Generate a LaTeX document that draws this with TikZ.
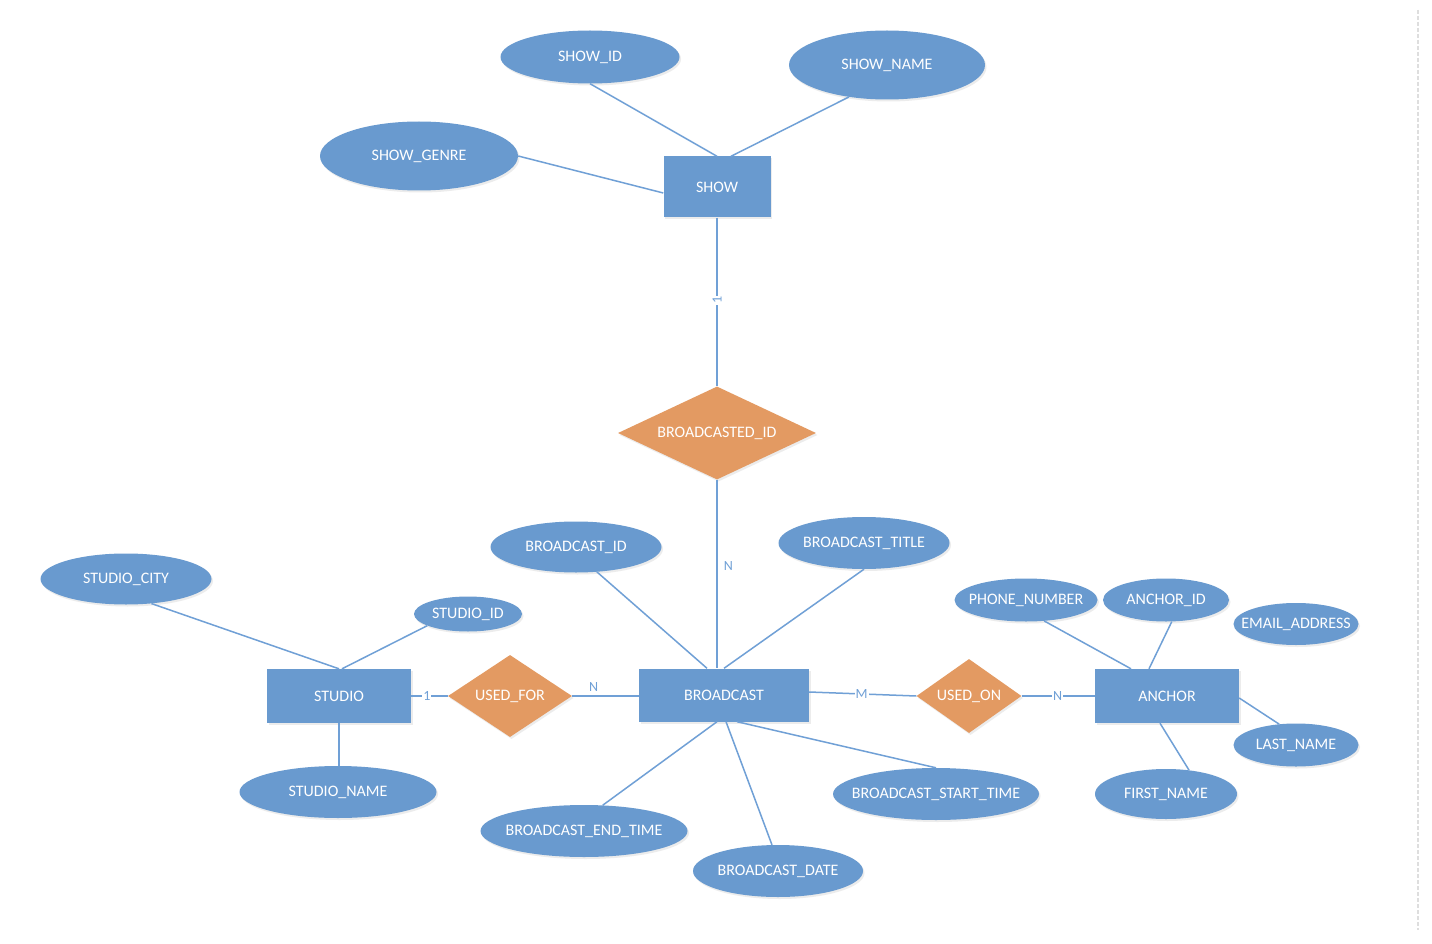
\documentclass[tikz,border=0pt]{standalone}
\usepackage{fontspec}
\setmainfont{Carlito}
\usetikzlibrary{shapes.geometric,calc,shadows}
\definecolor{erblue}{RGB}{105,154,207}
\definecolor{erline}{RGB}{112,160,214}
\definecolor{erorange}{RGB}{227,154,98}
\definecolor{edgegray}{RGB}{222,222,222}
\newcommand\zw[1]{\makebox[0pt]{#1}}
\begin{document}
\begin{tikzpicture}[x=1pt,y=-1pt,
  shd/.style={drop shadow={shadow xshift=1.5pt,shadow yshift=-2pt,opacity=0.15}},
  attr/.style={ellipse, fill=erblue, shd, text=white, inner sep=0pt,
               font=\fontsize{16}{18}\selectfont},
  ent/.style={rectangle, fill=erblue, shd, text=white, inner sep=0pt,
              font=\fontsize{16}{18}\selectfont},
  rel/.style={diamond, fill=erorange, shd, text=white, inner sep=0pt,
              font=\fontsize{16}{18}\selectfont},
  conn/.style={draw=erline, line width=1.5pt},
  lbl/.style={font=\fontsize{14}{16}\selectfont, text=erline, inner sep=1pt},
  onl/.style={lbl, fill=white}]
\useasboundingbox (0,0) rectangle (1432,944);
\fill[white] (0,0) rectangle (1432,944);
\draw[edgegray, line width=1.5pt, dash pattern=on 4pt off 2pt] (1418,10) -- (1418,930);

% SHOW part
\node[ent, minimum width=107pt, minimum height=61pt] (show) at (717,187) {SHOW};
\node[attr, minimum width=179pt, minimum height=53pt] (sid) at (590,57) {\zw{SHOW\_ID}};
\node[attr, minimum width=196pt, minimum height=69pt] (sname) at (887,65) {\zw{SHOW\_NAME}};
\node[attr, minimum width=198pt, minimum height=69pt] (sgenre) at (419,156) {\zw{SHOW\_GENRE}};
\node[rel, minimum width=198pt, minimum height=93pt] (bid) at (717,433) {\zw{BROADCASTED\_ID}};

% BROADCAST part
\node[ent, minimum width=170pt, minimum height=53pt] (bc) at (724,695) {BROADCAST};
\node[attr, minimum width=171pt, minimum height=51pt] (bcid) at (576,547) {\zw{BROADCAST\_ID}};
\node[attr, minimum width=171pt, minimum height=52pt] (bctitle) at (864,543) {\zw{BROADCAST\_TITLE}};
\node[attr, minimum width=207pt, minimum height=52pt] (bcend) at (584,831) {\zw{BROADCAST\_END\_TIME}};
\node[attr, minimum width=170pt, minimum height=52pt] (bcdate) at (778,871) {\zw{BROADCAST\_DATE}};
\node[attr, minimum width=206pt, minimum height=52pt] (bcstart) at (936,794) {\zw{BROADCAST\_START\_TIME}};

% STUDIO part
\node[ent, minimum width=144pt, minimum height=54pt] (studio) at (339,696) {STUDIO};
\node[attr, minimum width=171pt, minimum height=51pt] (scity) at (126,579) {\zw{STUDIO\_CITY}};
\node[attr, minimum width=108pt, minimum height=35pt] (stid) at (468,614) {\zw{STUDIO\_ID}};
\node[attr, minimum width=197pt, minimum height=52pt] (stname) at (338,792) {\zw{STUDIO\_NAME}};
\node[rel, minimum width=124pt, minimum height=82pt] (ufor) at (510,696) {\zw{USED\_FOR}};

% ANCHOR part
\node[rel, minimum width=105pt, minimum height=74pt] (uon) at (969,696) {\zw{USED\_ON}};
\node[ent, minimum width=144pt, minimum height=54pt] (anchor) at (1167,696) {ANCHOR};
\node[attr, minimum width=143pt, minimum height=43pt] (phone) at (1026,600) {\zw{PHONE\_NUMBER}};
\node[attr, minimum width=126pt, minimum height=43pt] (aid) at (1166,600) {\zw{ANCHOR\_ID}};
\node[attr, minimum width=125pt, minimum height=42pt] (email) at (1296,624) {\zw{EMAIL\_ADDRESS}};
\node[attr, minimum width=125pt, minimum height=43pt] (lname) at (1296,745) {\zw{LAST\_NAME}};
\node[attr, minimum width=142pt, minimum height=50pt] (fname) at (1166,794) {\zw{FIRST\_NAME}};

% connectors
\draw[conn] (sid.south) -- (show.north);
\draw[conn] (sname.220) -- ($(show.north)+(14,0)$);
\draw[conn] (sgenre.east) -- ($(show.west)+(0,6)$);
\draw[conn] (show.south) -- node[onl, rotate=90, pos=0.49] (l1) {1} (bid.north);
\draw[conn] (bid.south) -- node[lbl, pos=0.46, right=5pt] (l2) {N} (bid.south |- bc.north);

\draw[conn] (bcid.-50) -- ($(bc.north)+(-17,0)$);
\draw[conn] (bctitle.south) -- (bc.north);
\draw[conn] (bcend.54) -- ($(bc.south)+(-7,0)$);
\draw[conn] (bcdate.103) -- ($(bc.south)+(2,0)$);
\draw[conn] (bcstart.north) -- ($(bc.south)+(13,0)$);

\draw[conn] (scity.-44) -- (studio.north);
\draw[conn] (stid.196) -- ($(studio.north)+(3,0)$);
\draw[conn] (studio.south) -- (studio.south |- stname.north);
\draw[conn] (studio.east) -- node[onl, pos=0.43] (l3) {1} (ufor.west);
\draw[conn] (ufor.east) -- node[lbl, pos=0.32, above=3pt] (l4) {N} (ufor.east -| bc.west);

\draw[conn] ($(bc.east)+(0,-3)$) -- node[onl, pos=0.49] (l5) {M} (uon.west);
\draw[conn] (uon.east) -- node[onl, pos=0.49] (l6) {N} (anchor.west);

\draw[conn] (phone.-49) -- ($(anchor.north)+(-36,0)$);
\draw[conn] (aid.-75) -- ($(anchor.north)+(-18,0)$);
\draw[conn] ($(anchor.east)+(0,2)$) -- (lname.129);
\draw[conn] ($(anchor.south)+(-7,0)$) -- (fname.46);
\end{tikzpicture}
\end{document}
